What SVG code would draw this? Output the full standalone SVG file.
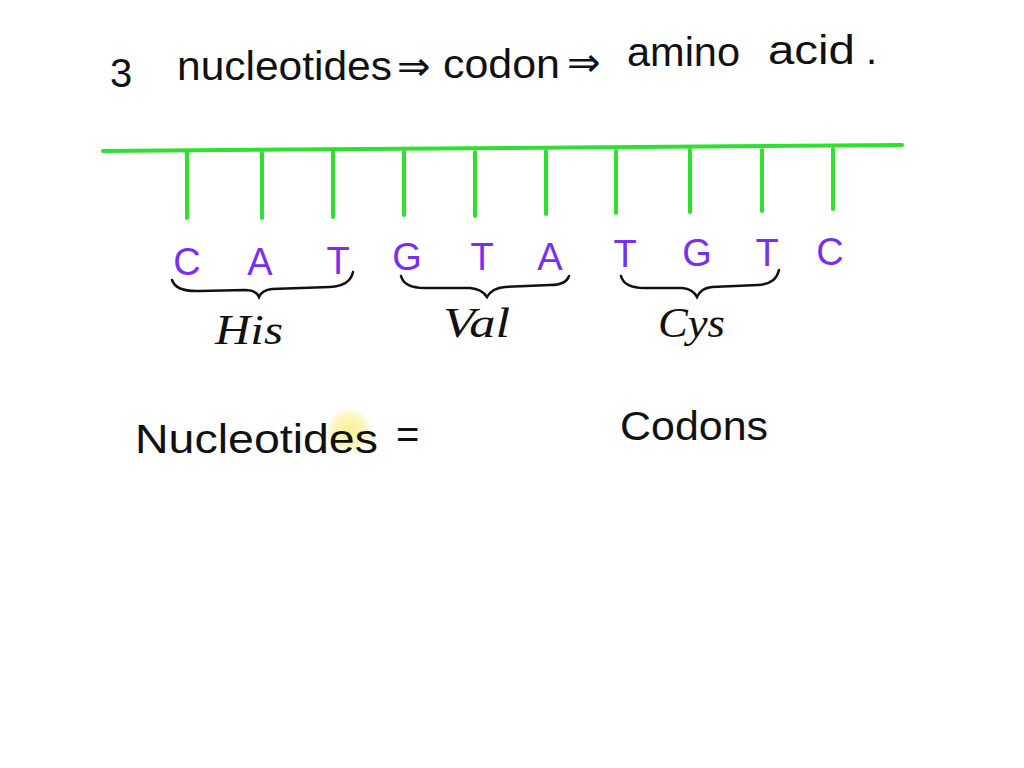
<svg xmlns="http://www.w3.org/2000/svg" width="1024" height="768" viewBox="0 0 1024 768">
<defs>
<radialGradient id="hl" cx="0.5" cy="0.5" r="0.5">
<stop offset="0" stop-color="#f6f08a" stop-opacity="0.95"/>
<stop offset="0.7" stop-color="#f8f3a8" stop-opacity="0.7"/>
<stop offset="1" stop-color="#fbf8d0" stop-opacity="0"/>
</radialGradient>
</defs>
<style>
.hand{font-family:"Liberation Sans","DejaVu Sans",sans-serif;fill:#111;}
.title{font-size:40px;}
.base{font-family:"Liberation Sans","DejaVu Sans",sans-serif;font-size:38px;fill:#7a2ff0;text-anchor:middle;}
.lbl{font-family:"Liberation Serif","DejaVu Serif",serif;font-style:italic;font-size:42px;fill:#111;}
.stem{stroke:#2fe02f;stroke-width:4;stroke-linecap:round;}
.brace{fill:none;stroke:#111;stroke-width:2.5;stroke-linecap:round;}
</style>
<rect width="1024" height="768" fill="#ffffff"/>
<g id="title">
<text class="hand title" x="110" y="87">3</text>
<text class="hand title" x="177" y="80" textLength="215" lengthAdjust="spacingAndGlyphs">nucleotides</text>
<text class="hand title" x="397" y="80">⇒</text>
<text class="hand title" x="443" y="78" textLength="117" lengthAdjust="spacingAndGlyphs">codon</text>
<text class="hand title" x="567" y="76">⇒</text>
<text class="hand title" x="627" y="66" textLength="113" lengthAdjust="spacingAndGlyphs">amino</text>
<text class="hand title" x="768" y="64" textLength="87" lengthAdjust="spacingAndGlyphs">acid</text>
<text class="hand title" x="866" y="64">.</text>
</g>
<g id="strand">
<line class="stem" x1="103" y1="151" x2="902" y2="145"/>
<line class="stem" x1="187" y1="153" x2="187" y2="218"/>
<line class="stem" x1="262" y1="153" x2="262" y2="218"/>
<line class="stem" x1="333" y1="152" x2="333" y2="217"/>
<line class="stem" x1="404" y1="152" x2="404" y2="215"/>
<line class="stem" x1="475" y1="152" x2="475" y2="216"/>
<line class="stem" x1="546" y1="151" x2="546" y2="214"/>
<line class="stem" x1="616" y1="151" x2="616" y2="213"/>
<line class="stem" x1="690" y1="150" x2="690" y2="212"/>
<line class="stem" x1="762" y1="150" x2="762" y2="211"/>
<line class="stem" x1="833" y1="149" x2="833" y2="209"/>
</g>
<g id="bases">
<text class="base" x="187" y="275">C</text>
<text class="base" x="260" y="275">A</text>
<text class="base" x="338" y="274">T</text>
<text class="base" x="407" y="270">G</text>
<text class="base" x="482" y="270">T</text>
<text class="base" x="550" y="270">A</text>
<text class="base" x="625" y="267">T</text>
<text class="base" x="697" y="266">G</text>
<text class="base" x="767" y="266">T</text>
<text class="base" x="830" y="265">C</text>
</g>
<g id="braces">
<path class="brace" d="M172,280 Q176,292 200,291 L245,290 Q256,290 259,297 Q262,290 272,289 L330,287 Q350,286 353,272"/>
<path class="brace" d="M401,276 Q404,288 425,288 L470,288 Q482,289 487,297 Q492,288 505,287 L550,285 Q566,285 569,276"/>
<path class="brace" d="M621,276 Q624,288 645,288 L682,288 Q693,289 697,297 Q701,288 712,287 L758,285 Q776,284 779,270"/>
</g>
<g id="labels">
<text class="lbl" x="215" y="344" textLength="68" lengthAdjust="spacingAndGlyphs">His</text>
<text class="lbl" x="443" y="337" textLength="67" lengthAdjust="spacingAndGlyphs">Val</text>
<text class="lbl" x="658" y="337" textLength="67" lengthAdjust="spacingAndGlyphs">Cys</text>
</g>
<circle id="highlight" cx="349" cy="431" r="24" fill="url(#hl)"/>
<g id="equation">
<text class="hand title" x="135" y="453" textLength="243" lengthAdjust="spacingAndGlyphs">Nucleotides</text>
<text class="hand title" x="396" y="448">=</text>
<text class="hand title" x="620" y="440" textLength="148" lengthAdjust="spacingAndGlyphs">Codons</text>
</g>
</svg>
